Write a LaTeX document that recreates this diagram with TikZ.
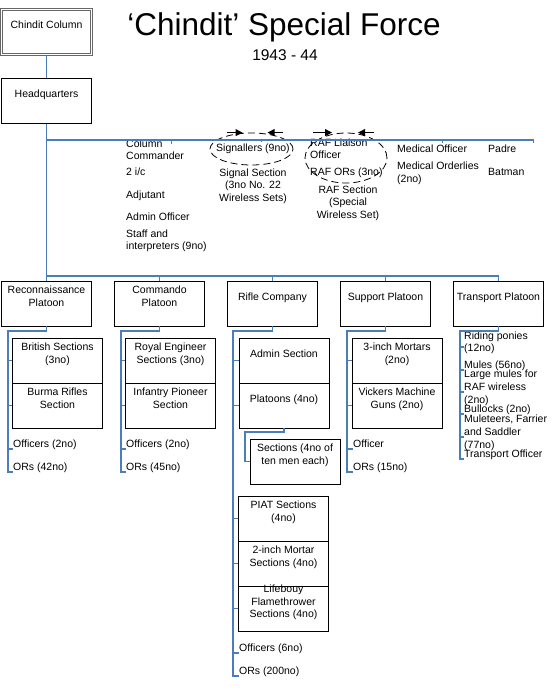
\documentclass[tikz,border=0pt]{standalone}
\usepackage{fontspec}
\setmainfont{Liberation Sans}
\usetikzlibrary{shapes.geometric}
\usetikzlibrary{arrows.meta}

\definecolor{linkblue}{HTML}{4A7EBB}

\newcommand{\boxtext}[1]{\parbox[c][45pt][c]{88pt}{\centering\strut #1\strut\par\vspace*{12pt}}}
\newcommand{\itemtext}[1]{\parbox[c][22pt][c]{90pt}{\raggedright\strut #1\strut\par\vspace*{8pt}}}

\begin{document}
\begin{tikzpicture}[x=1pt, y=-1pt,
    font=\fontsize{10.5}{12.6}\selectfont,
    orgbox/.style={draw, line width=0.8pt, inner sep=0pt, minimum width=90pt, minimum height=45pt},
    colbox/.style={orgbox, draw=gray!80!black, double, double distance=1.2pt},
    member/.style={anchor=west, inner sep=0pt},
    note/.style={align=center, inner sep=0pt},
    link/.style={draw=linkblue, line width=1.3pt},
    ring/.style={ellipse, draw, inner sep=0pt, line width=0.8pt, dash pattern=on 7pt off 4pt},
    flow/.style={line width=1pt, -{Triangle[length=7pt,width=7pt]}}]
    \useasboundingbox (0,0) rectangle (558,695);

    \node (title) at (284,27) {\fontsize{31.5}{36}\selectfont ‘Chindit’ Special Force};
    \node (years) at (285,55) {\fontsize{15.5}{18}\selectfont 1943 - 44};

    \node[colbox] (column) at (46.5,32) {\boxtext{Chindit Column}};
    \node[orgbox] (hq) at (46.5,101) {\boxtext{Headquarters}};
    \draw[link] (column) -- (hq);

    % headquarters staff
    \node[member] (commander) at (126,155) {\itemtext{Column\\Commander}};
    \node[member] (twoic) at (126,177) {\itemtext{2 i/c}};
    \node[member] (adjutant) at (126,200) {\itemtext{Adjutant}};
    \node[member] (adminofficer) at (126,222) {\itemtext{Admin Officer}};
    \node[member] (staff) at (126,245) {\itemtext{Staff and\\interpreters (9no)}};
    \node[member] (signallers) at (216,153) {\itemtext{Signallers (9no)}};
    \node[member] (rafliaison) at (310,154) {\itemtext{RAF Liaison\\Officer}};
    \node[member] (rafors) at (310,177) {\itemtext{RAF ORs (3no)}};
    \node[member] (medofficer) at (397,154) {\itemtext{Medical Officer}};
    \node[member] (medorderlies) at (397,177.5) {\itemtext{Medical Orderlies\\(2no)}};
    \node[member] (padre) at (488,154) {\itemtext{Padre}};
    \node[member] (batman) at (488,177) {\itemtext{Batman}};

    \node[ring, minimum width=83pt, minimum height=32pt] (signalring) at (251.5,149) {};
    \node[ring, minimum width=82pt, minimum height=50pt] (rafring) at (346,158) {};
    \draw[flow] ([xshift=-25pt]signalring.north) -- ([xshift=-9pt]signalring.north);
    \draw[flow] ([xshift=31pt]signalring.north) -- ([xshift=16pt]signalring.north);
    \draw[flow] ([xshift=-33pt]rafring.north) -- ([xshift=-14pt]rafring.north);
    \draw[flow] ([xshift=28pt]rafring.north) -- ([xshift=12pt]rafring.north);
    \node[note] (signalnote) at (253,186) {Signal Section\\(3no No. 22\\Wireless Sets)};
    \node[note] (rafnote) at (348,203) {RAF Section\\(Special\\Wireless Set)};

    \coordinate (staffbar) at (46.5,140);
    \draw[link] (staffbar) -| (padre.north);
    \foreach \m in {commander,signallers,medofficer}
        \draw[link] (staffbar -| \m.north) -- (\m.north);

    % platoons
    \node[orgbox] (recon) at (46.5,303.5) {\boxtext{Reconnaissance\\Platoon}};
    \node[orgbox] (commando) at (159.5,303.5) {\boxtext{Commando\\Platoon}};
    \node[orgbox] (rifle) at (272.5,303.5) {\boxtext{Rifle Company}};
    \node[orgbox] (support) at (385.5,303.5) {\boxtext{Support Platoon}};
    \node[orgbox] (transport) at (498.5,303.5) {\boxtext{Transport Platoon}};

    \coordinate (platoonbar) at (46.5,276);
    \draw[link] (hq.south) -- (recon.north);
    \draw[link] (platoonbar) -| (transport.north);
    \foreach \p in {commando,rifle,support}
        \draw[link] (platoonbar -| \p.north) -- (\p.north);

    \node[orgbox] (british) at (57.5,360.5) {\boxtext{British Sections\\(3no)}};
    \node[orgbox] (burma) at (57.5,405.5) {\boxtext{Burma Rifles\\Section}};
    \node[member] (reconoff) at (13,449) {\itemtext{Officers (2no)}};
    \node[member] (reconors) at (13,472) {\itemtext{ORs (42no)}};

    \node[orgbox] (royaleng) at (170.5,360.5) {\boxtext{Royal Engineer\\Sections (3no)}};
    \node[orgbox] (pioneer) at (170.5,405.5) {\boxtext{Infantry Pioneer\\Section}};
    \node[member] (commoff) at (126,449) {\itemtext{Officers (2no)}};
    \node[member] (commors) at (126,472) {\itemtext{ORs (45no)}};

    \node[orgbox] (adminsec) at (284,360.5) {\boxtext{Admin Section}};
    \node[orgbox] (platoons) at (284,405.5) {\boxtext{Platoons (4no)}};
    \node[orgbox] (sections) at (295,461.5) {\boxtext{Sections (4no of\\ten men each)}};
    \node[orgbox] (piat) at (283.5,518.5) {\boxtext{PIAT Sections\\(4no)}};
    \node[orgbox] (mortartwo) at (283.5,563.5) {\boxtext{2-inch Mortar\\Sections (4no)}};
    \node[orgbox] (lifebouy) at (283.5,608.5) {\boxtext{Lifebouy\\Flamethrower\\Sections (4no)}};
    \node[member] (rifleoff) at (239,653) {\itemtext{Officers (6no)}};
    \node[member] (rifleors) at (239,676) {\itemtext{ORs (200no)}};

    \node[orgbox] (mortarthree) at (397,360.5) {\boxtext{3-inch Mortars\\(2no)}};
    \node[orgbox] (vickers) at (397,405.5) {\boxtext{Vickers Machine\\Guns (2no)}};
    \node[member] (suppoff) at (353,449) {\itemtext{Officer}};
    \node[member] (suppors) at (353,472) {\itemtext{ORs (15no)}};

    \node[member] (ponies) at (464,347) {\itemtext{Riding ponies\\(12no)}};
    \node[member] (mules) at (464,370) {\itemtext{Mules (56no)}};
    \node[member] (largemules) at (464,392) {\itemtext{Large mules for\\RAF wireless\\(2no)}};
    \node[member] (bullocks) at (464,414) {\itemtext{Bullocks (2no)}};
    \node[member] (muleteers) at (464,437) {\itemtext{Muleteers, Farrier\\and Saddler\\(77no)}};
    \node[member] (tptofficer) at (464,459) {\itemtext{Transport Officer}};

    % platoon connectors
    \coordinate (reconbus) at (8,331);
    \coordinate (commbus) at (121,331);
    \coordinate (riflebus) at (233,331);
    \coordinate (suppbus) at (347,331);
    \coordinate (tptbus) at (460,331);
    \coordinate (sectionbus) at (245,432);

    \draw[link] (recon.south) |- (reconbus) |- (reconors.west);
    \foreach \m in {british,burma,reconoff}
        \draw[link] (reconbus |- \m.west) -- (\m.west);
    \draw[link] (commando.south) |- (commbus) |- (commors.west);
    \foreach \m in {royaleng,pioneer,commoff}
        \draw[link] (commbus |- \m.west) -- (\m.west);
    \draw[link] (rifle.south) |- (riflebus) |- (rifleors.west);
    \foreach \m in {adminsec,platoons,piat,mortartwo,lifebouy,rifleoff}
        \draw[link] (riflebus |- \m.west) -- (\m.west);
    \draw[link] (platoons.south) |- (sectionbus) |- (sections.west);
    \draw[link] (support.south) |- (suppbus) |- (suppors.west);
    \foreach \m in {mortarthree,vickers,suppoff}
        \draw[link] (suppbus |- \m.west) -- (\m.west);
    \draw[link] (transport.south) |- (tptbus) |- (tptofficer.west);
    \foreach \m in {ponies,mules,largemules,bullocks,muleteers}
        \draw[link] (tptbus |- \m.west) -- (\m.west);
\end{tikzpicture}
\end{document}
